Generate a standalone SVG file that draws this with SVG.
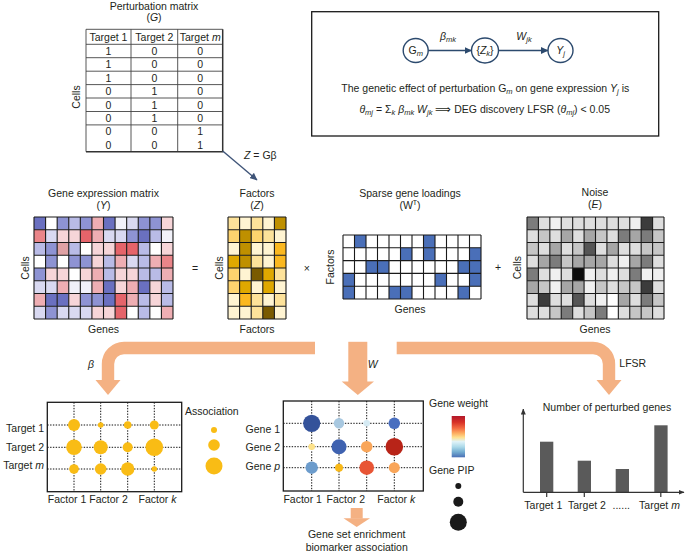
<svg xmlns="http://www.w3.org/2000/svg" width="685" height="554" viewBox="0 0 685 554">
<style>
text{font-family:"Liberation Sans",Arial,sans-serif;font-size:10.5px;fill:#231f20}
.mid{text-anchor:middle}.end{text-anchor:end}.it{font-style:italic}
.sub{font-size:7.5px;font-style:italic}
.grid{fill:none;stroke:#1a1a1a;stroke-width:1.1;vector-effect:non-scaling-stroke}
.tl{stroke:#444;stroke-width:0.9;fill:none}
.dot{stroke:#111;stroke-width:1;stroke-dasharray:1.4 1.4;fill:none}
.box{fill:none;stroke:#1a1a1a;stroke-width:1.3}
.nd{fill:#fff;stroke:#2c4a6e;stroke-width:1.4}
.na{stroke:#2c4a6e;stroke-width:1.4;fill:none}
.or{fill:#f4b183}.ors{fill:none;stroke:#f4b183;stroke-width:12.4}
.yc{fill:#f9bc15}
.bar{fill:#5a5a5a}
.ax{stroke:#333;stroke-width:1.2;fill:none}
.wh{fill:#fff}.w0{fill:#f1f1f9}.b0{fill:#d9d9f1}.b1{fill:#b9bbe6}.b2{fill:#8e93d3}.b3{fill:#6a70c0}
.r0{fill:#f6d5d8}.r1{fill:#eeaeb3}.rm{fill:#e0a2a5}.rs{fill:#ea8589}.r2{fill:#e5646a}
.y0{fill:#fff4d2}.y1{fill:#fde29a}.y2{fill:#fdd36e}.y3{fill:#fbb820}.y4{fill:#dfa800}.y5{fill:#bf9000}.y6{fill:#7a5a00}
.bl{fill:#4a6fb8}
.g0{fill:#f0f0f0}.g1{fill:#dedede}.g2{fill:#c6c6c6}.g3{fill:#a6a6a6}.g4{fill:#7c7c7c}.g5{fill:#555}.g6{fill:#3c3c3c}.g7{fill:#0c0c0c}
</style>
<defs>
<marker id="ah" markerUnits="userSpaceOnUse" markerWidth="8" markerHeight="7" refX="7" refY="3.5" orient="auto"><path d="M0,0L7.5,3.5L0,7z" fill="#2c4a6e"/></marker>
<marker id="ah2" markerUnits="userSpaceOnUse" markerWidth="8" markerHeight="7" refX="7" refY="3.5" orient="auto"><path d="M0,0L7.5,3.5L0,7z" fill="#3f5478"/></marker>
<marker id="ak" markerUnits="userSpaceOnUse" markerWidth="6" markerHeight="5" refX="5.5" refY="2.5" orient="auto"><path d="M0,0L6,2.5L0,5z" fill="#333"/></marker>
<linearGradient id="gw" x1="0" y1="0" x2="0" y2="1">
<stop offset="0" stop-color="#b2182b"/><stop offset="0.15" stop-color="#d73027"/><stop offset="0.3" stop-color="#f46d43"/><stop offset="0.42" stop-color="#fdae61"/><stop offset="0.52" stop-color="#fee090"/><stop offset="0.62" stop-color="#e0f3f8"/><stop offset="0.75" stop-color="#abd9e9"/><stop offset="0.87" stop-color="#74add1"/><stop offset="1" stop-color="#4a6fb5"/>
</linearGradient>
</defs>
<rect width="685" height="554" fill="#fff"/>

<!-- Perturbation matrix -->
<g id="perturbation-matrix">
<text x="154" y="9.5" class="mid">Perturbation matrix</text>
<text x="154" y="20.5" class="mid">(<tspan class="it">G</tspan>)</text>
<path class="tl" d="M86 29.3H222.7M86 44.3H222.7M86 57.7H222.7M86 71.2H222.7M86 84.6H222.7M86 98H222.7M86 111.5H222.7M86 124.9H222.7M86 29.3V151.7M131 29.3V151.7M177.7 29.3V151.7"/>
<path d="M86 151.7H222.7V29.3" fill="none" stroke="#333" stroke-width="1.5"/>
<text x="108.5" y="40.5" class="mid">Target 1</text>
<text x="154.3" y="40.5" class="mid">Target 2</text>
<text x="200.2" y="40.5" class="mid">Target <tspan class="it">m</tspan></text>
<g>
<text x="108.5" y="54.8" class="mid">1</text><text x="154.3" y="54.8" class="mid">0</text><text x="200.2" y="54.8" class="mid">0</text>
<text x="108.5" y="68.2" class="mid">1</text><text x="154.3" y="68.2" class="mid">0</text><text x="200.2" y="68.2" class="mid">0</text>
<text x="108.5" y="81.7" class="mid">1</text><text x="154.3" y="81.7" class="mid">0</text><text x="200.2" y="81.7" class="mid">0</text>
<text x="108.5" y="95.1" class="mid">0</text><text x="154.3" y="95.1" class="mid">1</text><text x="200.2" y="95.1" class="mid">0</text>
<text x="108.5" y="108.5" class="mid">0</text><text x="154.3" y="108.5" class="mid">1</text><text x="200.2" y="108.5" class="mid">0</text>
<text x="108.5" y="122" class="mid">0</text><text x="154.3" y="122" class="mid">1</text><text x="200.2" y="122" class="mid">0</text>
<text x="108.5" y="135.4" class="mid">0</text><text x="154.3" y="135.4" class="mid">0</text><text x="200.2" y="135.4" class="mid">1</text>
<text x="108.5" y="148.8" class="mid">0</text><text x="154.3" y="148.8" class="mid">0</text><text x="200.2" y="148.8" class="mid">1</text>
</g>
<text transform="translate(80 97) rotate(-90)" class="mid">Cells</text>
</g>

<!-- Model box -->
<g id="model-box">
<rect class="box" x="311.7" y="11.7" width="347" height="124.3"/>
<g id="node-Gm"><ellipse class="nd" cx="415.7" cy="50.5" rx="12.5" ry="12"/><text x="415.7" y="54" class="mid">G<tspan class="sub" dy="2">m</tspan></text></g>
<g id="node-Zk"><ellipse class="nd" cx="485" cy="50.5" rx="13.5" ry="12.5"/><text x="485" y="54" class="mid">{<tspan class="it">Z</tspan><tspan class="sub" dy="2">k</tspan><tspan dy="-2">}</tspan></text></g>
<g id="node-Yj"><ellipse class="nd" cx="560.5" cy="50.5" rx="12.5" ry="12"/><text x="560.5" y="54" class="mid"><tspan class="it">Y</tspan><tspan class="sub" dy="2">j</tspan></text></g>
<text x="448" y="39.5" class="mid"><tspan class="it">β</tspan><tspan class="sub" dy="2">mk</tspan></text>
<text x="524" y="39.5" class="mid"><tspan class="it">W</tspan><tspan class="sub" dy="2">jk</tspan></text>
<text x="485.3" y="91.5" class="mid" font-size="11">The genetic effect of perturbation G<tspan class="sub" dy="2">m</tspan><tspan dy="-2"> on gene expression </tspan><tspan class="it">Y</tspan><tspan class="sub" dy="2">j</tspan><tspan dy="-2"> is</tspan></text>
<text x="484.7" y="113" class="mid"><tspan class="it">θ</tspan><tspan class="sub" dy="2">mj</tspan><tspan dy="-2"> = Σ</tspan><tspan class="sub" dy="2">k</tspan><tspan dy="-2" class="it"> β</tspan><tspan class="sub" dy="2">mk</tspan><tspan dy="-2" class="it"> W</tspan><tspan class="sub" dy="2">jk</tspan><tspan dy="-2"> ⟹ DEG discovery LFSR (</tspan><tspan class="it">θ</tspan><tspan class="sub" dy="2">mj</tspan><tspan dy="-2">) &lt; 0.05</tspan></text>
</g>

<!-- Gene expression matrix -->
<g id="gene-expression-matrix">
<text x="103.5" y="196.5" class="mid">Gene expression matrix</text>
<text x="103.5" y="208.5" class="mid">(<tspan class="it">Y</tspan>)</text>
<g transform="translate(34 217) scale(11.583 12.75)">
<rect class="b3" x="0" y="0" width="1" height="1"/><rect class="wh" x="1" y="0" width="1" height="1"/><rect class="b2" x="2" y="0" width="1" height="1"/><rect class="b1" x="3" y="0" width="1" height="1"/><rect class="b2" x="4" y="0" width="1" height="1"/><rect class="r1" x="5" y="0" width="1" height="1"/><rect class="b3" x="6" y="0" width="1" height="1"/><rect class="w0" x="7" y="0" width="1" height="1"/><rect class="b0" x="8" y="0" width="1" height="1"/><rect class="b2" x="9" y="0" width="1" height="1"/><rect class="b2" x="10" y="0" width="1" height="1"/><rect class="r0" x="11" y="0" width="1" height="1"/>
<rect class="rs" x="0" y="1" width="1" height="1"/><rect class="b0" x="1" y="1" width="1" height="1"/><rect class="r0" x="2" y="1" width="1" height="1"/><rect class="r0" x="3" y="1" width="1" height="1"/><rect class="r2" x="4" y="1" width="1" height="1"/><rect class="r1" x="5" y="1" width="1" height="1"/><rect class="b0" x="6" y="1" width="1" height="1"/><rect class="b0" x="7" y="1" width="1" height="1"/><rect class="b2" x="8" y="1" width="1" height="1"/><rect class="b3" x="9" y="1" width="1" height="1"/><rect class="b1" x="10" y="1" width="1" height="1"/><rect class="w0" x="11" y="1" width="1" height="1"/>
<rect class="b1" x="0" y="2" width="1" height="1"/><rect class="b2" x="1" y="2" width="1" height="1"/><rect class="rm" x="2" y="2" width="1" height="1"/><rect class="b1" x="3" y="2" width="1" height="1"/><rect class="wh" x="4" y="2" width="1" height="1"/><rect class="r0" x="5" y="2" width="1" height="1"/><rect class="r0" x="6" y="2" width="1" height="1"/><rect class="r2" x="7" y="2" width="1" height="1"/><rect class="r2" x="8" y="2" width="1" height="1"/><rect class="b1" x="9" y="2" width="1" height="1"/><rect class="wh" x="10" y="2" width="1" height="1"/><rect class="r0" x="11" y="2" width="1" height="1"/>
<rect class="wh" x="0" y="3" width="1" height="1"/><rect class="b2" x="1" y="3" width="1" height="1"/><rect class="wh" x="2" y="3" width="1" height="1"/><rect class="b2" x="3" y="3" width="1" height="1"/><rect class="b2" x="4" y="3" width="1" height="1"/><rect class="r0" x="5" y="3" width="1" height="1"/><rect class="b1" x="6" y="3" width="1" height="1"/><rect class="r1" x="7" y="3" width="1" height="1"/><rect class="b0" x="8" y="3" width="1" height="1"/><rect class="b1" x="9" y="3" width="1" height="1"/><rect class="r1" x="10" y="3" width="1" height="1"/><rect class="rs" x="11" y="3" width="1" height="1"/>
<rect class="b2" x="0" y="4" width="1" height="1"/><rect class="r0" x="1" y="4" width="1" height="1"/><rect class="r0" x="2" y="4" width="1" height="1"/><rect class="wh" x="3" y="4" width="1" height="1"/><rect class="r0" x="4" y="4" width="1" height="1"/><rect class="r1" x="5" y="4" width="1" height="1"/><rect class="b1" x="6" y="4" width="1" height="1"/><rect class="r0" x="7" y="4" width="1" height="1"/><rect class="r0" x="8" y="4" width="1" height="1"/><rect class="b1" x="9" y="4" width="1" height="1"/><rect class="b1" x="10" y="4" width="1" height="1"/><rect class="r1" x="11" y="4" width="1" height="1"/>
<rect class="b0" x="0" y="5" width="1" height="1"/><rect class="b0" x="1" y="5" width="1" height="1"/><rect class="r1" x="2" y="5" width="1" height="1"/><rect class="w0" x="3" y="5" width="1" height="1"/><rect class="w0" x="4" y="5" width="1" height="1"/><rect class="r1" x="5" y="5" width="1" height="1"/><rect class="b3" x="6" y="5" width="1" height="1"/><rect class="r0" x="7" y="5" width="1" height="1"/><rect class="r1" x="8" y="5" width="1" height="1"/><rect class="b3" x="9" y="5" width="1" height="1"/><rect class="r0" x="10" y="5" width="1" height="1"/><rect class="b1" x="11" y="5" width="1" height="1"/>
<rect class="r1" x="0" y="6" width="1" height="1"/><rect class="b3" x="1" y="6" width="1" height="1"/><rect class="b3" x="2" y="6" width="1" height="1"/><rect class="r0" x="3" y="6" width="1" height="1"/><rect class="b2" x="4" y="6" width="1" height="1"/><rect class="b2" x="5" y="6" width="1" height="1"/><rect class="b3" x="6" y="6" width="1" height="1"/><rect class="r2" x="7" y="6" width="1" height="1"/><rect class="r1" x="8" y="6" width="1" height="1"/><rect class="b1" x="9" y="6" width="1" height="1"/><rect class="r0" x="10" y="6" width="1" height="1"/><rect class="b1" x="11" y="6" width="1" height="1"/>
<rect class="b0" x="0" y="7" width="1" height="1"/><rect class="b2" x="1" y="7" width="1" height="1"/><rect class="b0" x="2" y="7" width="1" height="1"/><rect class="b0" x="3" y="7" width="1" height="1"/><rect class="b0" x="4" y="7" width="1" height="1"/><rect class="r0" x="5" y="7" width="1" height="1"/><rect class="r0" x="6" y="7" width="1" height="1"/><rect class="r2" x="7" y="7" width="1" height="1"/><rect class="wh" x="8" y="7" width="1" height="1"/><rect class="b1" x="9" y="7" width="1" height="1"/><rect class="wh" x="10" y="7" width="1" height="1"/><rect class="r1" x="11" y="7" width="1" height="1"/>
<path class="grid" d="M0 0H12M0 1H12M0 2H12M0 3H12M0 4H12M0 5H12M0 6H12M0 7H12M0 8H12M0 0V8M1 0V8M2 0V8M3 0V8M4 0V8M5 0V8M6 0V8M7 0V8M8 0V8M9 0V8M10 0V8M11 0V8M12 0V8"/>
</g>
<text transform="translate(29 268) rotate(-90)" class="mid">Cells</text>
<text x="103.5" y="333" class="mid">Genes</text>
</g>

<text x="195" y="271.5" class="mid" font-size="12">=</text>

<!-- Factors -->
<g id="factors-matrix">
<text x="257" y="196.5" class="mid">Factors</text>
<text x="257" y="208.5" class="mid">(<tspan class="it">Z</tspan>)</text>
<g transform="translate(228 217) scale(11.6 12.75)">
<rect class="y1" x="0" y="0" width="1" height="1"/><rect class="y0" x="1" y="0" width="1" height="1"/><rect class="y1" x="2" y="0" width="1" height="1"/><rect class="y0" x="3" y="0" width="1" height="1"/><rect class="y5" x="4" y="0" width="1" height="1"/>
<rect class="y2" x="0" y="1" width="1" height="1"/><rect class="y5" x="1" y="1" width="1" height="1"/><rect class="y2" x="2" y="1" width="1" height="1"/><rect class="y1" x="3" y="1" width="1" height="1"/><rect class="y0" x="4" y="1" width="1" height="1"/>
<rect class="y0" x="0" y="2" width="1" height="1"/><rect class="y5" x="1" y="2" width="1" height="1"/><rect class="y0" x="2" y="2" width="1" height="1"/><rect class="y0" x="3" y="2" width="1" height="1"/><rect class="y3" x="4" y="2" width="1" height="1"/>
<rect class="y4" x="0" y="3" width="1" height="1"/><rect class="y5" x="1" y="3" width="1" height="1"/><rect class="y1" x="2" y="3" width="1" height="1"/><rect class="y0" x="3" y="3" width="1" height="1"/><rect class="y3" x="4" y="3" width="1" height="1"/>
<rect class="y2" x="0" y="4" width="1" height="1"/><rect class="y0" x="1" y="4" width="1" height="1"/><rect class="y6" x="2" y="4" width="1" height="1"/><rect class="y4" x="3" y="4" width="1" height="1"/><rect class="y1" x="4" y="4" width="1" height="1"/>
<rect class="y2" x="0" y="5" width="1" height="1"/><rect class="y4" x="1" y="5" width="1" height="1"/><rect class="y0" x="2" y="5" width="1" height="1"/><rect class="y4" x="3" y="5" width="1" height="1"/><rect class="y0" x="4" y="5" width="1" height="1"/>
<rect class="y0" x="0" y="6" width="1" height="1"/><rect class="y3" x="1" y="6" width="1" height="1"/><rect class="y1" x="2" y="6" width="1" height="1"/><rect class="y0" x="3" y="6" width="1" height="1"/><rect class="y1" x="4" y="6" width="1" height="1"/>
<rect class="y0" x="0" y="7" width="1" height="1"/><rect class="y0" x="1" y="7" width="1" height="1"/><rect class="y1" x="2" y="7" width="1" height="1"/><rect class="y6" x="3" y="7" width="1" height="1"/><rect class="y0" x="4" y="7" width="1" height="1"/>
<path class="grid" d="M0 0H5M0 1H5M0 2H5M0 3H5M0 4H5M0 5H5M0 6H5M0 7H5M0 8H5M0 0V8M1 0V8M2 0V8M3 0V8M4 0V8M5 0V8"/>
</g>
<text transform="translate(223 268) rotate(-90)" class="mid">Cells</text>
<text x="257" y="333" class="mid">Factors</text>
</g>

<text x="306.7" y="271.5" class="mid" font-size="12">×</text>

<!-- Sparse gene loadings -->
<g id="loadings-matrix">
<text x="410" y="196.5" class="mid">Sparse gene loadings</text>
<text x="410" y="208.5" class="mid">(W<tspan font-size="7" dy="-4">T</tspan><tspan dy="4">)</tspan></text>
<g transform="translate(343 235) scale(11.5 12.8)">
<rect class="wh" x="0" y="0" width="12" height="5"/>
<rect class="bl" x="1" y="0" width="1" height="1"/><rect class="bl" x="7" y="0" width="1" height="1"/>
<rect class="bl" x="5" y="1" width="1" height="1"/><rect class="bl" x="7" y="1" width="1" height="1"/><rect class="bl" x="11" y="1" width="1" height="1"/>
<rect class="bl" x="2" y="2" width="1" height="1"/><rect class="bl" x="3" y="2" width="1" height="1"/><rect class="bl" x="10" y="2" width="1" height="1"/><rect class="bl" x="11" y="2" width="1" height="1"/>
<rect class="bl" x="0" y="3" width="1" height="1"/><rect class="bl" x="8" y="3" width="1" height="1"/><rect class="bl" x="11" y="3" width="1" height="1"/>
<rect class="bl" x="0" y="4" width="1" height="1"/><rect class="bl" x="4" y="4" width="1" height="1"/><rect class="bl" x="5" y="4" width="1" height="1"/><rect class="bl" x="10" y="4" width="1" height="1"/>
<path class="grid" d="M0 0H12M0 1H12M0 2H12M0 3H12M0 4H12M0 5H12M0 0V5M1 0V5M2 0V5M3 0V5M4 0V5M5 0V5M6 0V5M7 0V5M8 0V5M9 0V5M10 0V5M11 0V5M12 0V5"/>
</g>
<text transform="translate(334 267) rotate(-90)" class="mid">Factors</text>
<text x="410" y="313" class="mid">Genes</text>
</g>

<text x="498" y="271" class="mid" font-size="12">+</text>

<!-- Noise -->
<g id="noise-matrix">
<text x="595" y="195.5" class="mid">Noise</text>
<text x="595" y="207.5" class="mid">(<tspan class="it">E</tspan>)</text>
<g transform="translate(527 217) scale(11.417 12.75)">
<rect class="g4" x="0" y="0" width="1" height="1"/><rect class="g1" x="1" y="0" width="1" height="1"/><rect class="g0" x="2" y="0" width="1" height="1"/><rect class="g1" x="3" y="0" width="1" height="1"/><rect class="g1" x="4" y="0" width="1" height="1"/><rect class="g1" x="5" y="0" width="1" height="1"/><rect class="g1" x="6" y="0" width="1" height="1"/><rect class="g1" x="7" y="0" width="1" height="1"/><rect class="g1" x="8" y="0" width="1" height="1"/><rect class="g0" x="9" y="0" width="1" height="1"/><rect class="g6" x="10" y="0" width="1" height="1"/><rect class="g1" x="11" y="0" width="1" height="1"/>
<rect class="g1" x="0" y="1" width="1" height="1"/><rect class="g2" x="1" y="1" width="1" height="1"/><rect class="g1" x="2" y="1" width="1" height="1"/><rect class="g3" x="3" y="1" width="1" height="1"/><rect class="g1" x="4" y="1" width="1" height="1"/><rect class="g3" x="5" y="1" width="1" height="1"/><rect class="g2" x="6" y="1" width="1" height="1"/><rect class="g1" x="7" y="1" width="1" height="1"/><rect class="g4" x="8" y="1" width="1" height="1"/><rect class="g3" x="9" y="1" width="1" height="1"/><rect class="g4" x="10" y="1" width="1" height="1"/><rect class="g2" x="11" y="1" width="1" height="1"/>
<rect class="g2" x="0" y="2" width="1" height="1"/><rect class="g1" x="1" y="2" width="1" height="1"/><rect class="g3" x="2" y="2" width="1" height="1"/><rect class="g1" x="3" y="2" width="1" height="1"/><rect class="g2" x="4" y="2" width="1" height="1"/><rect class="g5" x="5" y="2" width="1" height="1"/><rect class="g1" x="6" y="2" width="1" height="1"/><rect class="g3" x="7" y="2" width="1" height="1"/><rect class="g1" x="8" y="2" width="1" height="1"/><rect class="g1" x="9" y="2" width="1" height="1"/><rect class="g2" x="10" y="2" width="1" height="1"/><rect class="g2" x="11" y="2" width="1" height="1"/>
<rect class="g1" x="0" y="3" width="1" height="1"/><rect class="g3" x="1" y="3" width="1" height="1"/><rect class="g4" x="2" y="3" width="1" height="1"/><rect class="g2" x="3" y="3" width="1" height="1"/><rect class="g3" x="4" y="3" width="1" height="1"/><rect class="g3" x="5" y="3" width="1" height="1"/><rect class="g3" x="6" y="3" width="1" height="1"/><rect class="g1" x="7" y="3" width="1" height="1"/><rect class="g0" x="8" y="3" width="1" height="1"/><rect class="g3" x="9" y="3" width="1" height="1"/><rect class="g4" x="10" y="3" width="1" height="1"/><rect class="g1" x="11" y="3" width="1" height="1"/>
<rect class="g4" x="0" y="4" width="1" height="1"/><rect class="g1" x="1" y="4" width="1" height="1"/><rect class="g0" x="2" y="4" width="1" height="1"/><rect class="g1" x="3" y="4" width="1" height="1"/><rect class="g7" x="4" y="4" width="1" height="1"/><rect class="g0" x="5" y="4" width="1" height="1"/><rect class="g1" x="6" y="4" width="1" height="1"/><rect class="g0" x="7" y="4" width="1" height="1"/><rect class="g1" x="8" y="4" width="1" height="1"/><rect class="g4" x="9" y="4" width="1" height="1"/><rect class="g0" x="10" y="4" width="1" height="1"/><rect class="g0" x="11" y="4" width="1" height="1"/>
<rect class="g3" x="0" y="5" width="1" height="1"/><rect class="g2" x="1" y="5" width="1" height="1"/><rect class="g0" x="2" y="5" width="1" height="1"/><rect class="g3" x="3" y="5" width="1" height="1"/><rect class="g3" x="4" y="5" width="1" height="1"/><rect class="g0" x="5" y="5" width="1" height="1"/><rect class="g2" x="6" y="5" width="1" height="1"/><rect class="g1" x="7" y="5" width="1" height="1"/><rect class="g2" x="8" y="5" width="1" height="1"/><rect class="g2" x="9" y="5" width="1" height="1"/><rect class="g6" x="10" y="5" width="1" height="1"/><rect class="g1" x="11" y="5" width="1" height="1"/>
<rect class="g1" x="0" y="6" width="1" height="1"/><rect class="g6" x="1" y="6" width="1" height="1"/><rect class="g1" x="2" y="6" width="1" height="1"/><rect class="g1" x="3" y="6" width="1" height="1"/><rect class="g5" x="4" y="6" width="1" height="1"/><rect class="g1" x="5" y="6" width="1" height="1"/><rect class="g0" x="6" y="6" width="1" height="1"/><rect class="wh" x="7" y="6" width="1" height="1"/><rect class="g3" x="8" y="6" width="1" height="1"/><rect class="g1" x="9" y="6" width="1" height="1"/><rect class="g4" x="10" y="6" width="1" height="1"/><rect class="g2" x="11" y="6" width="1" height="1"/>
<rect class="g1" x="0" y="7" width="1" height="1"/><rect class="g1" x="1" y="7" width="1" height="1"/><rect class="g2" x="2" y="7" width="1" height="1"/><rect class="g4" x="3" y="7" width="1" height="1"/><rect class="g1" x="4" y="7" width="1" height="1"/><rect class="g2" x="5" y="7" width="1" height="1"/><rect class="g4" x="6" y="7" width="1" height="1"/><rect class="wh" x="7" y="7" width="1" height="1"/><rect class="g1" x="8" y="7" width="1" height="1"/><rect class="g2" x="9" y="7" width="1" height="1"/><rect class="g2" x="10" y="7" width="1" height="1"/><rect class="g1" x="11" y="7" width="1" height="1"/>
<path class="grid" d="M0 0H12M0 1H12M0 2H12M0 3H12M0 4H12M0 5H12M0 6H12M0 7H12M0 8H12M0 0V8M1 0V8M2 0V8M3 0V8M4 0V8M5 0V8M6 0V8M7 0V8M8 0V8M9 0V8M10 0V8M11 0V8M12 0V8"/>
</g>
<text transform="translate(520.7 267.7) rotate(-90)" class="mid">Cells</text>
<text x="595" y="333" class="mid">Genes</text>
</g>

<!-- Connectors -->
<g id="connectors">
<line x1="222.7" y1="151" x2="257" y2="180" stroke="#3f5478" stroke-width="1.4" marker-end="url(#ah2)"/>
<text x="244" y="159"><tspan class="it">Z</tspan> = Gβ</text>
<line class="na" x1="428.2" y1="50.5" x2="471.5" y2="50.5" marker-end="url(#ah)"/>
<line class="na" x1="498.5" y1="50.5" x2="548" y2="50.5" marker-end="url(#ah)"/>
<path class="ors" d="M108 381V364A16 16 0 0 1 124 348H315"/>
<polygon class="or" points="95.5,380 120.5,380 108,395"/>
<rect class="or" x="348.3" y="341.8" width="19" height="40.2"/>
<polygon class="or" points="341.7,381.5 374,381.5 357.8,395"/>
<path class="ors" d="M396.7 348H593A16 16 0 0 1 609 364V381"/>
<polygon class="or" points="596.5,380 621.5,380 609,395"/>
<text x="91" y="368" class="mid it">β</text>
<text x="372.7" y="367.7" class="mid it">W</text>
<text x="619.3" y="367.3">LFSR</text>
<rect class="or" x="350.7" y="508" width="12" height="10.6"/>
<polygon class="or" points="343.5,518.3 370,518.3 356.7,527"/>
</g>

<!-- Beta panel -->
<g id="beta-panel">
<path class="dot" d="M74 402.3V491.7M100.7 402.3V491.7M127.7 402.3V491.7M154.3 402.3V491.7M47.3 425H181.7M47.3 447.3H181.7M47.3 469H181.7"/>
<rect class="box" x="47.3" y="402.3" width="134.4" height="89.4"/>
<circle class="yc" cx="74" cy="425" r="6"/><circle class="yc" cx="100.7" cy="425" r="2.8"/><circle class="yc" cx="127.7" cy="425" r="3.8"/><circle class="yc" cx="154.3" cy="425" r="4.5"/>
<circle class="yc" cx="74" cy="447.3" r="7.8"/><circle class="yc" cx="100.7" cy="447.3" r="7"/><circle class="yc" cx="127.7" cy="447.3" r="5"/><circle class="yc" cx="154.3" cy="447.3" r="8.8"/>
<circle class="yc" cx="74" cy="469" r="4.8"/><circle class="yc" cx="100.7" cy="469" r="5.8"/><circle class="yc" cx="127.7" cy="469" r="6.7"/><circle class="yc" cx="154.3" cy="469" r="2.8"/>
<text x="44" y="432" class="end">Target 1</text>
<text x="44" y="450.5" class="end">Target 2</text>
<text x="44" y="468.8" class="end">Target <tspan class="it">m</tspan></text>
<text x="67" y="503.3" class="mid">Factor 1</text>
<text x="108.5" y="503.3" class="mid">Factor 2</text>
<text x="157.5" y="503.3" class="mid">Factor <tspan class="it">k</tspan></text>
<text x="185" y="415">Association</text>
<circle class="yc" cx="214" cy="430" r="3"/><circle class="yc" cx="214" cy="445" r="5.8"/><circle class="yc" cx="214" cy="466" r="8.5"/>
</g>

<!-- W panel -->
<g id="w-panel">
<path class="dot" d="M311.7 401V491M339 401V491M366.7 401V491M394.3 401V491M283.3 423.3H423.3M283.3 446.7H423.3M283.3 467.7H423.3"/>
<rect class="box" x="283.3" y="401" width="140" height="90"/>
<circle cx="311.7" cy="423.3" r="8.6" fill="#34529a"/><circle cx="339" cy="423.3" r="5.2" fill="#a8c8e0"/><circle cx="366.7" cy="423.3" r="3.3" fill="#d5eaf3"/><circle cx="394.3" cy="423.3" r="5.8" fill="#4a6fbf"/>
<circle cx="311.7" cy="446.7" r="3.3" fill="#fde28a"/><circle cx="339" cy="446.7" r="7.5" fill="#3f62b0"/><circle cx="366.7" cy="446.7" r="5.8" fill="#f9a65a"/><circle cx="394.3" cy="446.7" r="8.8" fill="#b82418"/>
<circle cx="311.7" cy="467.7" r="6.2" fill="#6c9ccc"/><circle cx="339" cy="467.7" r="4" fill="#f8b818"/><circle cx="366.7" cy="467.7" r="7.3" fill="#e85535"/><circle cx="394.3" cy="467.7" r="5.5" fill="#f9a65a"/>
<text x="280" y="432.5" class="end">Gene 1</text>
<text x="280" y="450.8" class="end">Gene 2</text>
<text x="280" y="470" class="end">Gene <tspan class="it">p</tspan></text>
<text x="302.7" y="502.7" class="mid">Factor 1</text>
<text x="345.8" y="502.7" class="mid">Factor 2</text>
<text x="396.3" y="502.7" class="mid">Factor <tspan class="it">k</tspan></text>
<text x="429" y="407">Gene weight</text>
<rect x="451.7" y="416" width="13.3" height="41.3" fill="url(#gw)"/>
<text x="429" y="474">Gene PIP</text>
<circle cx="458.3" cy="486" r="3" fill="#1a1a1a"/><circle cx="458.3" cy="501.7" r="5" fill="#1a1a1a"/><circle cx="458.3" cy="522.3" r="8.5" fill="#1a1a1a"/>
<text x="356.7" y="538" class="mid">Gene set enrichment</text>
<text x="356.7" y="551" class="mid">biomarker association</text>
</g>

<!-- LFSR panel -->
<g id="lfsr-panel">
<text x="607" y="410.5" class="mid">Number of perturbed genes</text>
<rect class="bar" x="540" y="441.7" width="13.3" height="50.6"/>
<rect class="bar" x="577.7" y="460.7" width="13.3" height="31.6"/>
<rect class="bar" x="615.7" y="469" width="13.3" height="23.3"/>
<rect class="bar" x="654.3" y="425.3" width="13.3" height="67"/>
<line class="ax" x1="523.3" y1="492.3" x2="523.3" y2="409" marker-end="url(#ak)"/>
<line class="ax" x1="523.3" y1="492.3" x2="684" y2="492.3" marker-end="url(#ak)"/>
<path class="ax" d="M546.7 492.3V497M584.3 492.3V497M660.8 492.3V497"/>
<text x="543.3" y="509.3" class="mid">Target 1</text>
<text x="587" y="509.3" class="mid">Target 2</text>
<text x="621.3" y="509.3" class="mid">......</text>
<text x="659.5" y="508.5" class="mid">Target <tspan class="it">m</tspan></text>
</g>
</svg>
